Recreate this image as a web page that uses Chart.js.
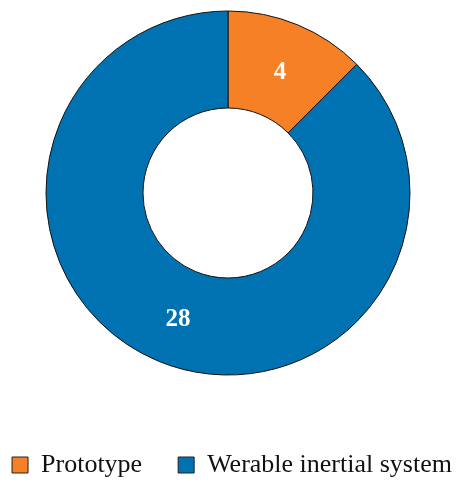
<!DOCTYPE html>
<html lang="en">
  <head>
    <title>Doughnut</title>
    <meta charset="UTF-8" />
    <style>
      html, body { margin: 0; padding: 0; background: #fff; }
      .wrap { width: 474px; height: 490px; }
    </style>
  </head>
  <body>
    <div class="wrap">
      <canvas id="myDoughnut"></canvas>
    </div>
    <script src="https://cdn.jsdelivr.net/npm/chart.js"></script>
    <script>
      var categories = ["Prototype", "Werable inertial system"];
      var counts = [4, 28];
      var colours = ["#F58025", "#0072B2"];

      var serif = "'Liberation Serif', 'Times New Roman', serif";

      // write the value in the middle of each slice
      var sliceLabels = {
        id: "sliceLabels",
        afterDatasetsDraw: function (chart) {
          var ctx = chart.ctx;
          var meta = chart.getDatasetMeta(0);
          ctx.save();
          ctx.fillStyle = "#fff";
          ctx.font = "bold 25px " + serif;
          ctx.textAlign = "center";
          ctx.textBaseline = "middle";
          meta.data.forEach(function (arc, i) {
            var p = arc.tooltipPosition();
            ctx.fillText(String(counts[i]), p.x + 1, p.y + 3);
          });
          ctx.restore();
        },
      };

      // legend row is wider than the chart area: keep it on one row
      // and centre it where the original one sits (x ~ 232)
      var oneRowLegend = {
        id: "oneRowLegend",
        beforeInit: function (chart) {
          var lg = chart.legend;
          if (!lg) return;
          var fit = lg.fit;
          lg.fit = function () {
            var mw = this.maxWidth;
            this.maxWidth = mw + 100;
            fit.call(this);
            this.maxWidth = mw;
            this.width = Math.min(this.width, mw);
          };
        },
        afterLayout: function (chart) {
          var lg = chart.legend;
          if (!lg || !lg.lineWidths) return;
          var p = lg.options.labels.padding;
          var L = lg.lineWidths[0];
          var start = 232 - (L - p) / 2;
          lg.right = start + L + 1;
          lg.left = start * 2 - p - lg.right + L;
        },
      };

      var ctx = document.getElementById("myDoughnut");
      var myDoughnut = new Chart(ctx, {
        type: "doughnut",
        data: {
          labels: categories,
          datasets: [
            {
              data: counts,
              backgroundColor: colours,
              borderColor: "#111",
              borderWidth: 1,
            },
          ],
        },
        options: {
          responsive: true,
          maintainAspectRatio: false,
          animation: false,
          radius: 182,
          cutout: "46.7%",
          layout: { padding: { top: 11, bottom: 2, left: 0, right: 18 } },
          plugins: {
            tooltip: { enabled: false },
            legend: {
              position: "bottom",
              title: {
                display: true,
                text: "",
                font: { size: 10, lineHeight: 1 },
                padding: { top: 31, bottom: 0 },
              },
              labels: {
                boxWidth: 16,
                boxHeight: 16,
                padding: 36,
                color: "#111",
                font: { family: serif, size: 26 },
                generateLabels: function (chart) {
                  return categories.map(function (c, i) {
                    return {
                      text: c,
                      fillStyle: colours[i],
                      strokeStyle: "#222",
                      fontColor: "#111",
                      lineWidth: 1,
                      index: i,
                    };
                  });
                },
              },
            },
          },
        },
        plugins: [oneRowLegend, sliceLabels],
      });
    </script>
  </body>
</html>
